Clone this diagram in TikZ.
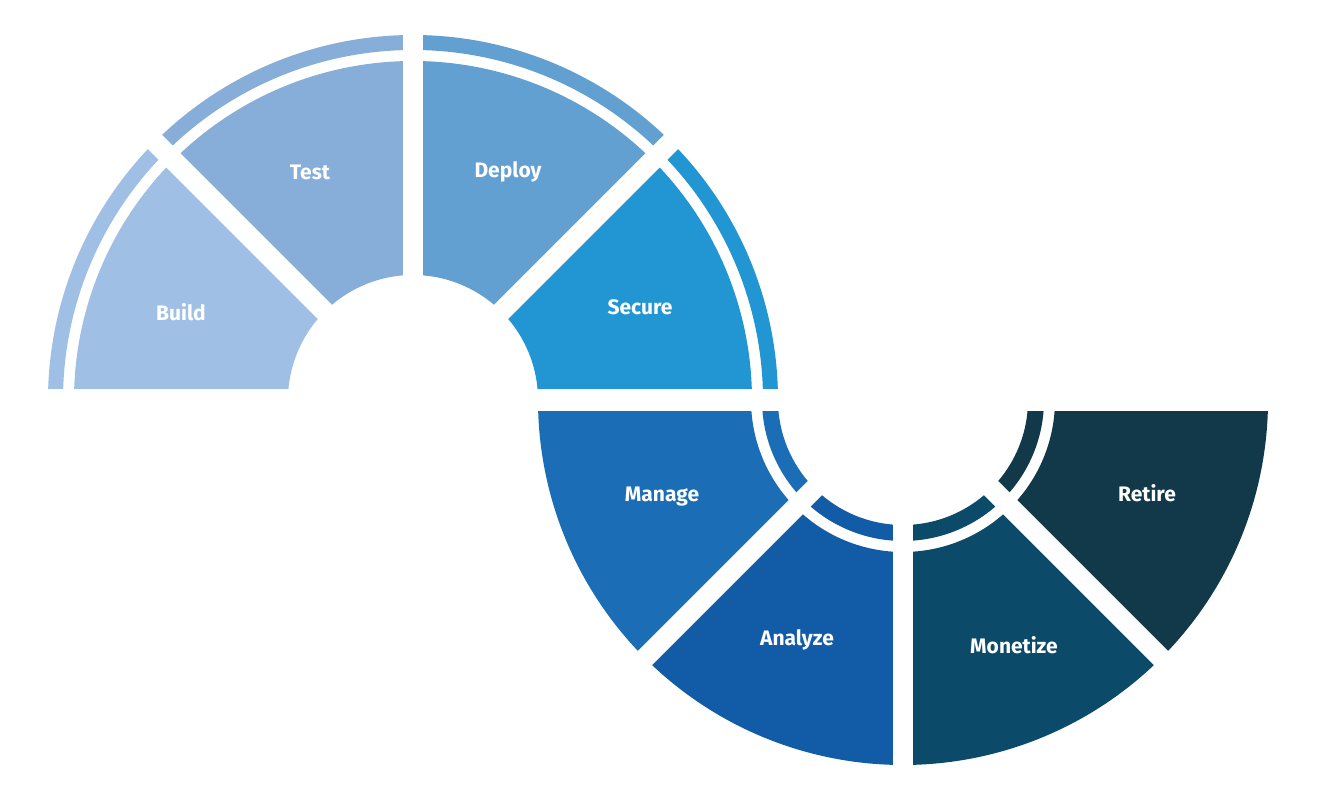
\documentclass[tikz,border=0pt]{standalone}
\usepackage{fontspec}
\setmainfont{Fira Sans}
\usetikzlibrary{calc}
\definecolor{cBuild}{HTML}{A0BFE4}
\definecolor{cTest}{HTML}{86AED8}
\definecolor{cDeploy}{HTML}{62A0D2}
\definecolor{cSecure}{HTML}{2196D3}
\definecolor{cManage}{HTML}{1B6EB5}
\definecolor{cAnalyze}{HTML}{125BA6}
\definecolor{cMonetize}{HTML}{0C4A6A}
\definecolor{cRetire}{HTML}{12394A}
\newcommand{\mysector}[6]{% color, center, a1, a2, r1, r2
  \fill[#1] ($(#2)+(#3:#5)$) arc[start angle=#3,end angle=#4,radius=#5] -- ($(#2)+(#4:#6)$) arc[start angle=#4,end angle=#3,radius=#6] -- cycle;}
\tikzset{lbl/.style={text=white,font=\fontsize{21}{24}\selectfont\bfseries},
  cut/.style={white,line width=20pt}}
\begin{document}
\begin{tikzpicture}[x=1pt,y=1pt]
\useasboundingbox (0,0) rectangle (1320,800);
\coordinate (T) at (413,400);
\coordinate (B) at (903,400);
% top half
\mysector{cBuild}{T}{135}{180}{125}{339}
\mysector{cBuild}{T}{135}{180}{350}{365}
\mysector{cTest}{T}{90}{135}{125}{339}
\mysector{cTest}{T}{90}{135}{350}{365}
\mysector{cDeploy}{T}{45}{90}{125}{339}
\mysector{cDeploy}{T}{45}{90}{350}{365}
\mysector{cSecure}{T}{0}{45}{125}{339}
\mysector{cSecure}{T}{0}{45}{350}{365}
% bottom half
\mysector{cManage}{B}{180}{225}{152}{365}
\mysector{cManage}{B}{180}{225}{125}{141}
\mysector{cAnalyze}{B}{225}{270}{152}{365}
\mysector{cAnalyze}{B}{225}{270}{125}{141}
\mysector{cMonetize}{B}{270}{315}{152}{365}
\mysector{cMonetize}{B}{270}{315}{125}{141}
\mysector{cRetire}{B}{315}{360}{152}{365}
\mysector{cRetire}{B}{315}{360}{125}{141}
% cuts
\coordinate (t1) at ($(T)+(45:380)$);
\coordinate (t2) at ($(T)+(90:380)$);
\coordinate (t3) at ($(T)+(135:380)$);
\coordinate (b1) at ($(B)+(225:380)$);
\coordinate (b2) at ($(B)+(270:380)$);
\coordinate (b3) at ($(B)+(315:380)$);
\draw[cut] (T) -- (t1);
\draw[cut] (T) -- (t2);
\draw[cut] (T) -- (t3);
\draw[cut] (B) -- (b1);
\draw[cut] (B) -- (b2);
\draw[cut] (B) -- (b3);
\fill[white] (0,389) rectangle (1320,411);
% labels
\node[lbl] (build) at (181,488) {Build};
\node[lbl] (test) at (310,628) {Test};
\node[lbl] (deploy) at (508,628) {Deploy};
\node[lbl] (secure) at (640,493) {Secure};
\node[lbl] (manage) at (662,303) {Manage};
\node[lbl] (analyze) at (797,160) {Analyze};
\node[lbl] (monetize) at (1014,155) {Monetize};
\node[lbl] (retire) at (1147,307) {Retire};
\end{tikzpicture}
\end{document}
